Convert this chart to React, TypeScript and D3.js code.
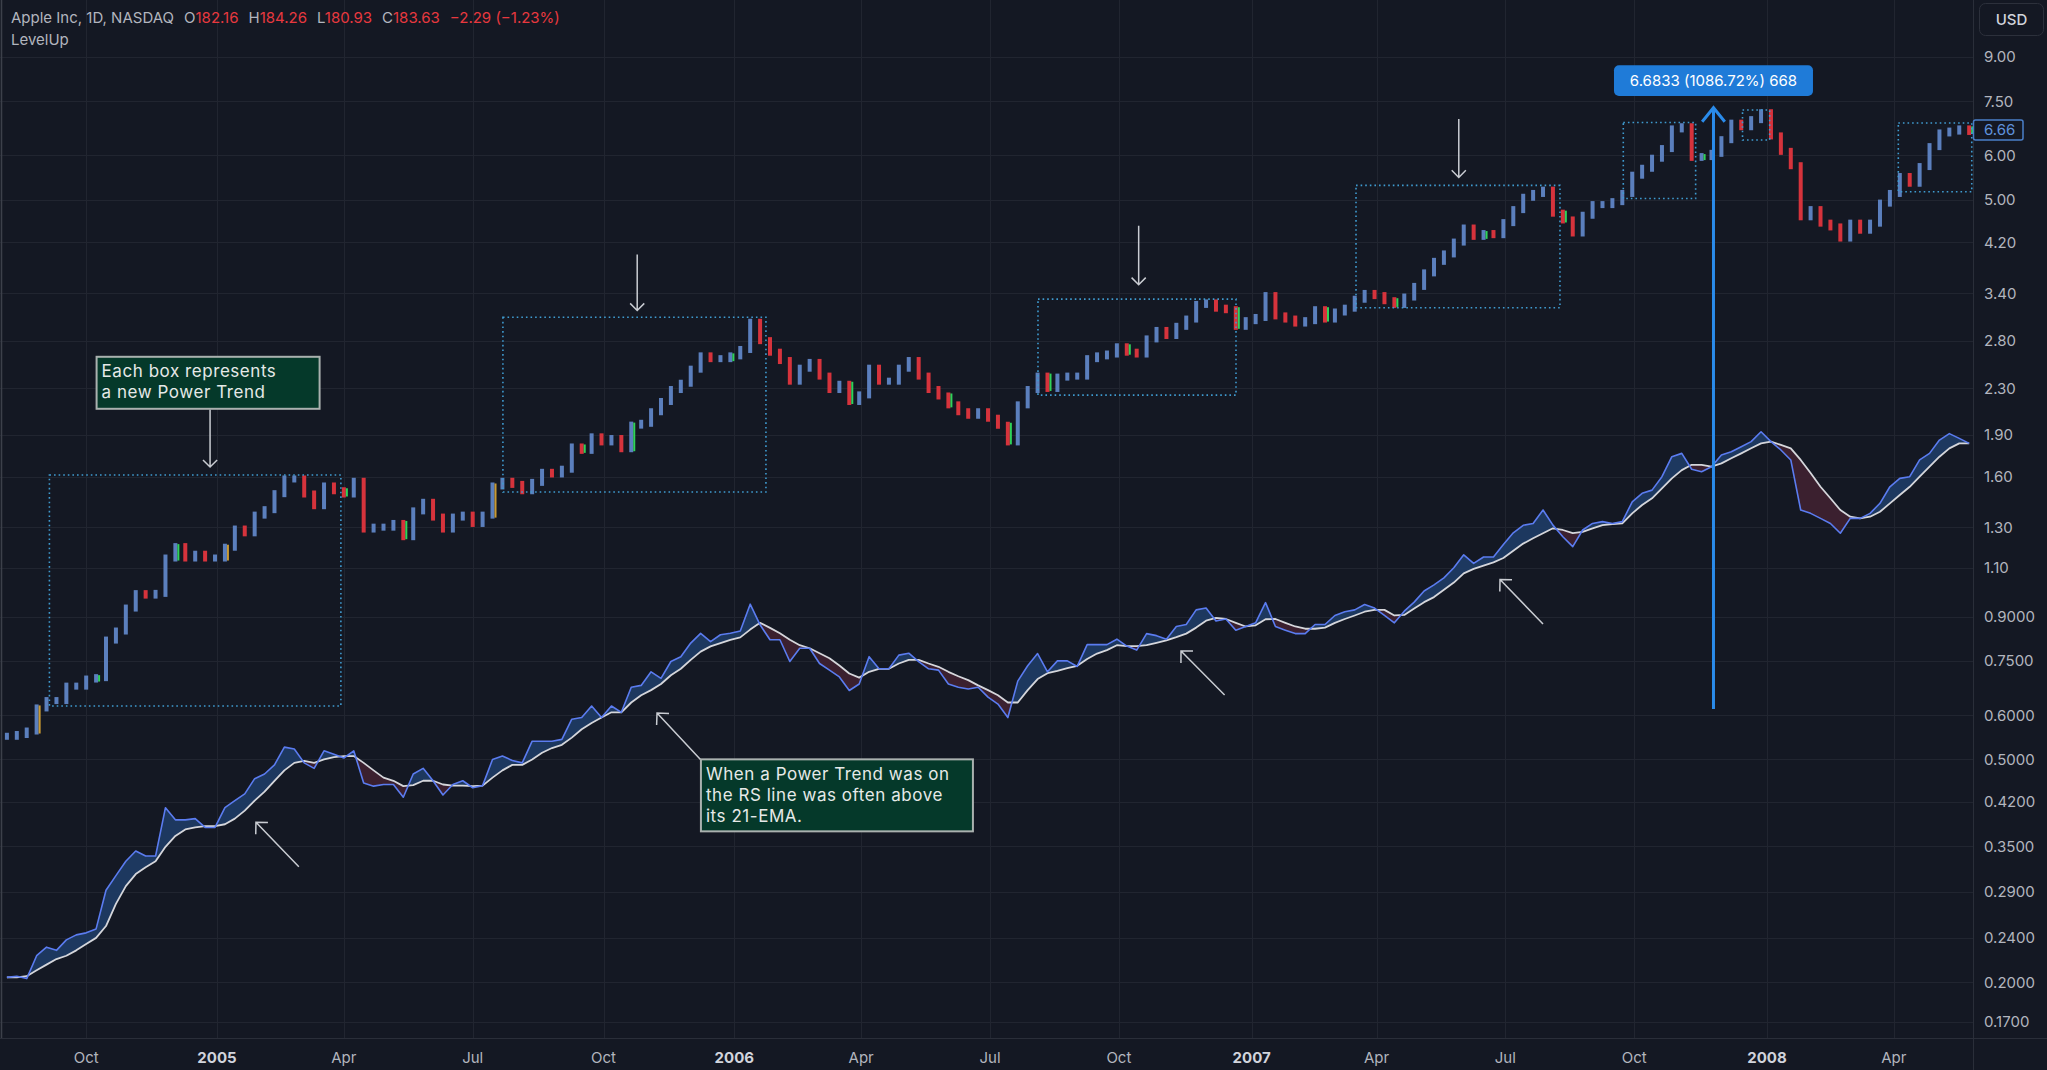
import { useEffect } from 'react';
import * as d3 from 'd3';

const W = 2047;
const H = 1070;
const PLOT_R = 1973;
const PLOT_B = 1038;

// weekly closes (Friday of each week), first week ending 2004-08-06
const firstFriday = '2004-08-06';
const closes = [
  0.55, 0.554, 0.562, 0.618, 0.637, 0.637, 0.676, 0.676, 0.696, 0.70,
  0.817, 0.848, 0.932, 0.989, 0.983, 0.99, 1.145, 1.20, 1.145, 1.163,
  1.145, 1.145, 1.197, 1.29, 1.27, 1.366, 1.397, 1.492, 1.585, 1.585,
  1.49, 1.42, 1.54, 1.51, 1.49, 1.57, 1.29, 1.30, 1.30, 1.32,
  1.25, 1.39, 1.44, 1.355, 1.29, 1.355, 1.366, 1.32, 1.366, 1.54,
  1.57, 1.55, 1.51, 1.563, 1.629, 1.618, 1.65, 1.808, 1.783, 1.885,
  1.846, 1.872, 1.795, 1.978, 1.993, 2.09, 2.18, 2.29, 2.35, 2.49,
  2.63, 2.60, 2.60, 2.63, 2.70, 3.02, 2.80, 2.67, 2.58, 2.37,
  2.50, 2.56, 2.42, 2.29, 2.34, 2.18, 2.24, 2.50, 2.37, 2.37,
  2.50, 2.58, 2.42, 2.29, 2.23, 2.15, 2.09, 2.06, 2.09, 2.035,
  1.977, 1.846, 2.15, 2.29, 2.42, 2.30, 2.41, 2.42, 2.42, 2.60,
  2.63, 2.65, 2.73, 2.67, 2.65, 2.82, 2.92, 2.86, 2.97, 3.06,
  3.25, 3.27, 3.20, 3.18, 2.97, 3.04, 3.08, 3.37, 3.10, 3.06,
  3.01, 3.04, 3.18, 3.06, 3.15, 3.20, 3.32, 3.40, 3.37, 3.30,
  3.25, 3.35, 3.50, 3.70, 3.88, 4.00, 4.20, 4.45, 4.30, 4.35,
  4.33, 4.55, 4.80, 5.05, 5.13, 5.20, 4.73, 4.60, 4.36, 4.69,
  4.90, 4.90, 4.96, 5.13, 5.53, 5.69, 5.93, 6.17, 6.69, 6.75,
  5.95, 5.97, 6.05, 6.40, 6.85, 6.75, 6.95, 7.15, 6.50, 6.10,
  5.75, 4.66, 4.80, 4.54, 4.47, 4.27, 4.54, 4.41, 4.54, 4.93,
  5.13, 5.50, 5.35, 5.73, 6.22, 6.58, 6.63, 6.69, 6.62,
];

// RS line and its 21-EMA, same weeks
const rsLine = [
  0.204, 0.205, 0.203, 0.223, 0.231, 0.228, 0.238, 0.243, 0.245, 0.249,
  0.292, 0.31, 0.329, 0.343, 0.336, 0.336, 0.41, 0.39, 0.39, 0.392,
  0.378, 0.378, 0.41, 0.422, 0.434, 0.462, 0.471, 0.489, 0.526, 0.522,
  0.493, 0.482, 0.518, 0.511, 0.503, 0.518, 0.454, 0.448, 0.451, 0.451,
  0.428, 0.471, 0.482, 0.458, 0.432, 0.451, 0.458, 0.445, 0.449, 0.50,
  0.507, 0.498, 0.493, 0.539, 0.539, 0.539, 0.543, 0.59, 0.594, 0.623,
  0.594, 0.623, 0.607, 0.673, 0.678, 0.717, 0.698, 0.748, 0.763, 0.807,
  0.84, 0.812, 0.835, 0.84, 0.848, 0.947, 0.87, 0.818, 0.818, 0.748,
  0.79, 0.79, 0.742, 0.722, 0.702, 0.664, 0.682, 0.763, 0.726, 0.726,
  0.768, 0.774, 0.748, 0.726, 0.722, 0.682, 0.673, 0.668, 0.673, 0.646,
  0.628, 0.594, 0.69, 0.735, 0.773, 0.717, 0.75, 0.75, 0.733, 0.802,
  0.802, 0.802, 0.82, 0.797, 0.784, 0.839, 0.832, 0.82, 0.864, 0.871,
  0.925, 0.932, 0.884, 0.891, 0.851, 0.864, 0.877, 0.953, 0.864, 0.851,
  0.839, 0.839, 0.871, 0.871, 0.904, 0.918, 0.925, 0.946, 0.932, 0.904,
  0.877, 0.92, 0.955, 1.0, 1.025, 1.055, 1.10, 1.16, 1.12, 1.15,
  1.15, 1.21, 1.27, 1.31, 1.32, 1.395, 1.311, 1.25, 1.2, 1.285,
  1.32, 1.33, 1.32, 1.33, 1.443, 1.494, 1.514, 1.6, 1.737, 1.761,
  1.65, 1.633, 1.667, 1.75, 1.773, 1.81, 1.848, 1.925, 1.848, 1.786,
  1.714, 1.395, 1.376, 1.348, 1.32, 1.268, 1.348, 1.348, 1.376, 1.434,
  1.535, 1.589, 1.6, 1.714, 1.761, 1.86, 1.91, 1.873, 1.835,
];

const rsEma = [
  0.204, 0.204, 0.205, 0.21, 0.215, 0.22, 0.223, 0.228, 0.234, 0.24,
  0.252, 0.276, 0.297, 0.312, 0.321, 0.329, 0.349, 0.365, 0.375, 0.378,
  0.38, 0.38, 0.383, 0.392, 0.405, 0.422, 0.438, 0.458, 0.478, 0.493,
  0.497, 0.493, 0.50, 0.505, 0.507, 0.507, 0.493, 0.478, 0.464, 0.458,
  0.448, 0.450, 0.458, 0.458, 0.451, 0.449, 0.449, 0.448, 0.449, 0.464,
  0.478, 0.489, 0.489, 0.50, 0.514, 0.524, 0.531, 0.547, 0.566, 0.581,
  0.594, 0.607, 0.607, 0.632, 0.651, 0.665, 0.682, 0.707, 0.726, 0.753,
  0.779, 0.796, 0.807, 0.818, 0.826, 0.853, 0.877, 0.859, 0.84, 0.818,
  0.80, 0.79, 0.774, 0.758, 0.736, 0.712, 0.70, 0.717, 0.726, 0.726,
  0.742, 0.753, 0.753, 0.742, 0.732, 0.717, 0.704, 0.693, 0.678, 0.665,
  0.651, 0.632, 0.632, 0.665, 0.696, 0.713, 0.72, 0.728, 0.735, 0.756,
  0.773, 0.784, 0.80, 0.797, 0.797, 0.80, 0.808, 0.816, 0.827, 0.839,
  0.86, 0.885, 0.895, 0.891, 0.877, 0.864, 0.868, 0.89, 0.891, 0.877,
  0.864, 0.856, 0.856, 0.86, 0.877, 0.891, 0.904, 0.918, 0.925, 0.925,
  0.904, 0.906, 0.93, 0.955, 0.975, 1.005, 1.035, 1.075, 1.095, 1.11,
  1.125, 1.145, 1.18, 1.215, 1.242, 1.268, 1.294, 1.285, 1.268, 1.275,
  1.294, 1.311, 1.317, 1.32, 1.376, 1.424, 1.464, 1.525, 1.589, 1.644,
  1.68, 1.679, 1.667, 1.69, 1.726, 1.761, 1.798, 1.835, 1.848, 1.823,
  1.798, 1.714, 1.624, 1.535, 1.464, 1.395, 1.357, 1.348, 1.357, 1.385,
  1.434, 1.484, 1.535, 1.6, 1.667, 1.737, 1.798, 1.835, 1.835,
];

// weeks in which the indicator painted a green / orange day
const greenBars = [9, 17, 34, 40, 58, 63, 73, 85, 95, 101, 105, 113, 124, 133, 140, 149, 157, 171, 198];
const orangeBars = [3, 22, 49];

const priceTicks = [9, 7.5, 6, 5, 4.2, 3.4, 2.8, 2.3, 1.9, 1.6, 1.3, 1.1, 0.9, 0.75, 0.6, 0.5, 0.42, 0.35, 0.29, 0.24, 0.2, 0.17];
const timeTickDates = ['2004-10-01', '2005-01-03', '2005-04-01', '2005-07-01', '2005-10-03', '2006-01-03', '2006-04-03', '2006-07-03', '2006-10-02', '2007-01-03', '2007-04-02', '2007-07-02', '2007-10-01', '2008-01-02', '2008-04-01'];
const timeTickLabels = ['Oct', '2005', 'Apr', 'Jul', 'Oct', '2006', 'Apr', 'Jul', 'Oct', '2007', 'Apr', 'Jul', 'Oct', '2008', 'Apr'];

// annotations in (week index, price) units
const trendBoxes = [
  { from: 4.29, to: 33.7, low: 0.623, high: 1.611 },
  { from: 50.05, to: 76.59, low: 1.502, high: 3.082 },
  { from: 104.04, to: 124.02, low: 2.238, high: 3.322 },
  { from: 136.13, to: 156.71, low: 3.206, high: 5.304 },
  { from: 163.1, to: 170.4, low: 5.023, high: 6.868 },
  { from: 175.13, to: 177.87, low: 6.39, high: 7.229 },
  { from: 190.85, to: 198.26, low: 5.166, high: 6.853 },
];
const downArrows = [
  { at: 20.5, from: 2.11, to: 1.665 },
  { at: 63.6, from: 3.99, to: 3.17 },
  { at: 114.2, from: 4.49, to: 3.525 },
  { at: 146.5, from: 6.97, to: 5.48 },
];
const pointerArrows = [
  { tail: [29.46, 0.3216], head: [25.13, 0.386] },
  { tail: [70.03, 0.4988], head: [65.6, 0.605] },
  { tail: [122.87, 0.6517], head: [118.47, 0.781] },
  { tail: [155.0, 0.873], head: [150.66, 1.048] },
];
const notes = [
  { at: 9.05, top: 2.62, lines: ['Each box represents', 'a new Power Trend'] },
  { at: 70.03, top: 0.5002, lines: ['When a Power Trend was on', 'the RS line was often above', 'its 21-EMA.'] },
];
const noteSize = [{ w: 223, h: 52 }, { w: 272, h: 72 }];
const measure = { at: 172.2, from: 0.615, to: 7.298, label: '6.6833 (1086.72%) 668' };
const lastPrice = 6.66;

const header = [
  ['O', '182.16'], ['H', '184.26'], ['L', '180.93'], ['C', '183.63'],
];

const MS_DAY = 86400000;
const EPOCH_MON = Date.UTC(1970, 0, 5);
const utc = (s: string) => new Date(s + 'T00:00:00Z');
function weekdayIndex(d: Date) {
  const days = Math.round((d.getTime() - EPOCH_MON) / MS_DAY);
  const w = Math.floor(days / 7);
  return w * 5 + Math.min(days - w * 7, 5);
}

const BG = '#141823';
const GRID = '#212530';
const AXIS_TXT = '#b2b5be';
const UP = '#5b7fbd';
const DOWN = '#d6333c';
const FONT = 'Inter, "Noto Sans", sans-serif';

function arrowPath(x1: number, y1: number, x2: number, y2: number, head: number, spread: number) {
  const ang = Math.atan2(y2 - y1, x2 - x1);
  const a1 = ang + Math.PI - spread;
  const a2 = ang + Math.PI + spread;
  return `M${x1},${y1}L${x2},${y2}M${x2 + head * Math.cos(a1)},${y2 + head * Math.sin(a1)}L${x2},${y2}L${x2 + head * Math.cos(a2)},${y2 + head * Math.sin(a2)}`;
}

export default function App() {
  useEffect(() => {
    document.body.style.margin = '0';
    document.body.style.background = BG;
  }, []);

  const x = d3.scaleLinear()
    .domain([weekdayIndex(utc('2005-01-03')), weekdayIndex(utc('2008-01-02'))])
    .range([217, 1767]);
  const y = d3.scaleLog().domain([0.17, 9]).range([1021.7, 56.8]);
  const w0 = weekdayIndex(utc(firstFriday));
  const xw = (k: number) => x(w0 + 5 * k);
  const idx = d3.range(closes.length);

  const rsPath = d3.line<number>().x(i => xw(i)).y(i => y(rsLine[i]))(idx) || '';
  const emaPath = d3.line<number>().x(i => xw(i)).y(i => y(rsEma[i]))(idx) || '';
  const band = d3.area<number>().x(i => xw(i)).y0(i => y(rsEma[i])).y1(i => y(rsLine[i]))(idx) || '';
  const aboveClip = d3.area<number>().x(i => xw(i)).y0(0).y1(i => y(rsEma[i]))(idx) || '';
  const belowClip = d3.area<number>().x(i => xw(i)).y0(PLOT_B).y1(i => y(rsEma[i]))(idx) || '';

  const timeX = timeTickDates.map(d => x(weekdayIndex(utc(d))));

  const mx = xw(measure.at);
  const myTop = y(measure.to);
  const myBot = y(measure.from);

  return (
    <svg width={W} height={H} style={{ position: 'absolute', left: 0, top: 0, display: 'block', background: BG }} fontFamily={FONT}>
      <defs>
        <clipPath id="plot"><rect x={0} y={0} width={PLOT_R} height={PLOT_B} /></clipPath>
        <clipPath id="above"><path d={aboveClip} /></clipPath>
        <clipPath id="below"><path d={belowClip} /></clipPath>
      </defs>
      <rect x={0} y={0} width={W} height={H} fill={BG} />

      {/* grid */}
      <g stroke={GRID} strokeWidth={1}>
        {priceTicks.map(t => <line key={'h' + t} x1={0} x2={PLOT_R} y1={Math.round(y(t)) + 0.5} y2={Math.round(y(t)) + 0.5} />)}
        {timeX.map((tx, i) => <line key={'v' + i} x1={Math.round(tx) + 0.5} x2={Math.round(tx) + 0.5} y1={0} y2={PLOT_B} />)}
      </g>

      <g clipPath="url(#plot)">
        {/* RS vs EMA fill */}
        <path d={band} fill="#1d3a63" opacity={0.95} clipPath="url(#above)" />
        <path d={band} fill="#3d2130" opacity={0.95} clipPath="url(#below)" />
        <path d={emaPath} fill="none" stroke="#d5d6db" strokeWidth={1.8} strokeLinejoin="round" />
        <path d={rsPath} fill="none" stroke="#5b7cf0" strokeWidth={1.6} strokeLinejoin="round" />

        {/* price bars */}
        {closes.map((c, i) => {
          const o = i > 0 ? closes[i - 1] : c;
          const top = y(Math.max(o, c)) - 3.5;
          const bot = y(Math.min(o, c)) + 3.5;
          const fill = c >= o ? UP : DOWN;
          const flag = greenBars.includes(i) ? '#2fd35a' : orangeBars.includes(i) ? '#c99a32' : null;
          const cx = xw(i);
          return (
            <g key={'b' + i}>
              <rect x={cx - 2} y={top} width={4} height={bot - top} fill={fill} />
              {flag && <rect x={cx + 2} y={top + 1} width={2} height={Math.max(6, bot - top - 2)} fill={flag} />}
            </g>
          );
        })}

        {/* power trend boxes */}
        {trendBoxes.map((b, i) => (
          <rect key={'pt' + i} x={xw(b.from)} y={y(b.high)} width={xw(b.to) - xw(b.from)} height={y(b.low) - y(b.high)}
            fill="none" stroke="#3f9bd0" strokeWidth={1.6} strokeDasharray="1.6 3" />
        ))}

        {/* arrows */}
        {downArrows.map((a, i) => (
          <path key={'da' + i} d={arrowPath(xw(a.at), y(a.from), xw(a.at), y(a.to), 10, Math.PI / 4)}
            fill="none" stroke="#c9ccd2" strokeWidth={1.5} />
        ))}
        {pointerArrows.map((a, i) => (
          <path key={'pa' + i} d={arrowPath(xw(a.tail[0]), y(a.tail[1]), xw(a.head[0]), y(a.head[1]), 12, Math.PI / 4)}
            fill="none" stroke="#c9ccd2" strokeWidth={1.5} />
        ))}

        {/* notes */}
        {notes.map((n, i) => {
          const nx = xw(n.at);
          const ny = y(n.top);
          return (
            <g key={'n' + i}>
              <rect x={nx} y={ny} width={noteSize[i].w} height={noteSize[i].h} fill="#05392a" stroke="#aab1af" strokeWidth={2} />
              {n.lines.map((l, j) => (
                <text key={j} x={nx + 5} y={ny + 20.5 + j * 21} fontSize={17} letterSpacing={0.55} fill="#e6e9e8">{l}</text>
              ))}
            </g>
          );
        })}

        {/* measure tool */}
        <path d={arrowPath(mx, myBot, mx, myTop, 18, 0.68)} fill="none" stroke="#2a8bea" strokeWidth={3} />
        <rect x={mx - 99.5} y={myTop - 42.5} width={199} height={30.7} rx={5} fill="#1f7bd8" />
        <text x={mx} y={myTop - 27} fontSize={15} fill="#ffffff" textAnchor="middle" dominantBaseline="central">{measure.label}</text>
      </g>

      {/* left edge */}
      <line x1={1.5} x2={1.5} y1={0} y2={PLOT_B} stroke="#3c404a" strokeWidth={1.5} />

      {/* price axis */}
      <line x1={PLOT_R + 0.5} x2={PLOT_R + 0.5} y1={0} y2={H} stroke="#2a2e39" />
      <line x1={0} x2={W} y1={PLOT_B + 0.5} y2={PLOT_B + 0.5} stroke="#2a2e39" />
      {priceTicks.map(t => (
        <text key={'pl' + t} x={1984} y={y(t)} fontSize={15} fill={AXIS_TXT} dominantBaseline="central">
          {t >= 1 ? t.toFixed(2) : t.toFixed(4)}
        </text>
      ))}
      <rect x={PLOT_R + 0.5} y={y(lastPrice) - 10} width={49.5} height={20} rx={2} fill={BG} stroke="#4a7fc9" strokeWidth={1.5} />
      <text x={1984} y={y(lastPrice)} fontSize={15} fill="#5f92dc" dominantBaseline="central">{lastPrice.toFixed(2)}</text>
      <rect x={1979.5} y={3.5} width={64} height={32} rx={6} fill={BG} stroke="#2c303b" strokeWidth={1} />
      <text x={2011.5} y={19.5} fontSize={15} fontWeight={500} fill="#d1d4dc" textAnchor="middle" dominantBaseline="central">USD</text>

      {/* time axis */}
      {timeX.map((tx, i) => {
        const isYear = /^\d{4}$/.test(timeTickLabels[i]);
        return (
          <text key={'tl' + i} x={tx} y={1057} fontSize={15} fontWeight={isYear ? 700 : 400}
            fill={isYear ? '#d1d4dc' : AXIS_TXT} textAnchor="middle" dominantBaseline="central">{timeTickLabels[i]}</text>
        );
      })}

      {/* header */}
      <text x={11} y={23} fontSize={15} fill={AXIS_TXT}>
        <tspan>Apple Inc, 1D, NASDAQ</tspan>
        {header.map(([k, v]) => [
          <tspan key={k} dx={10}>{k}</tspan>,
          <tspan key={k + 'v'} fill="#e8383f">{v}</tspan>,
        ])}
        <tspan dx={10} fill="#e8383f">−2.29 (−1.23%)</tspan>
      </text>
      <text x={11} y={45} fontSize={15} fill={AXIS_TXT}>LevelUp</text>
    </svg>
  );
}
